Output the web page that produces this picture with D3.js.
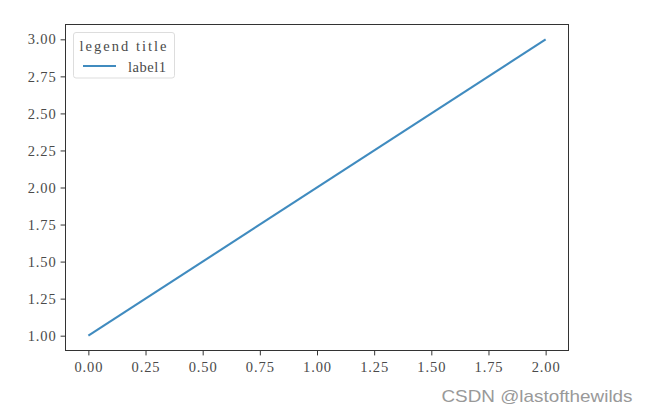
<!DOCTYPE html>
<html><head><meta charset="utf-8">
<script src="https://cdn.jsdelivr.net/npm/d3@7"></script>
<style>html,body{margin:0;padding:0;background:#fff;}</style>
</head><body>
<svg id="c" width="649" height="413"></svg>
<script>
const xValues = [0, 2];
const yValues = [1, 3];
const xTicks = [0, 0.25, 0.5, 0.75, 1.0, 1.25, 1.5, 1.75, 2.0];
const yTicks = [1.0, 1.25, 1.5, 1.75, 2.0, 2.25, 2.5, 2.75, 3.0];
const legendTitle = "legend title";
const seriesLabel = "label1";
const watermark = "CSDN @lastofthewilds";

const svg = d3.select("#c");
const L = 65.5, R = 568.5, T = 24.5, B = 350.5;
const x = d3.scaleLinear().domain([-0.1, 2.1]).range([L, R]);
const y = d3.scaleLinear().domain([0.9, 3.1]).range([B, T]);
const font = "'Liberation Serif', 'Times New Roman', serif";
const tc = "#4a4a4a";

const xa = svg.append("g").attr("transform", `translate(0,${B})`)
  .call(d3.axisBottom(x).tickValues(xTicks).tickFormat(d3.format(".2f")).tickSize(4.9).tickPadding(5));
const ya = svg.append("g").attr("transform", `translate(${L},0)`)
  .call(d3.axisLeft(y).tickValues(yTicks).tickFormat(d3.format(".2f")).tickSize(4.9).tickPadding(5));
[xa, ya].forEach(a => {
  a.select(".domain").remove();
  a.selectAll(".tick line").attr("stroke", "#333").attr("stroke-width", 1);
  a.selectAll(".tick text").attr("font-family", font).attr("font-size", 14.5)
    .attr("letter-spacing", 0.9).attr("fill", tc);
});
ya.selectAll(".tick text").attr("dx", 1);
xa.selectAll(".tick text").attr("dy", "0.8em");

svg.append("rect").attr("x", L).attr("y", T).attr("width", R - L).attr("height", B - T)
  .attr("fill", "none").attr("stroke", "#333").attr("stroke-width", 1);

const line = d3.line().x((d, i) => x(xValues[i])).y(d => y(d));
svg.append("path").datum(yValues).attr("d", line)
  .attr("fill", "none").attr("stroke", "#1f77b4").attr("stroke-width", 2.1).attr("opacity", 0.85);

// legend
const lg = svg.append("g");
lg.append("rect").attr("x", 73.5).attr("y", 32.5).attr("width", 101).attr("height", 45.5)
  .attr("rx", 2.5).attr("fill", "#fff").attr("fill-opacity", 0.8).attr("stroke", "#ddd").attr("stroke-width", 1);
lg.append("text").attr("x", 79.5).attr("y", 50.5).attr("font-family", font).attr("font-size", 14.5)
  .attr("fill", tc).attr("textLength", 87).attr("lengthAdjust", "spacing").text(legendTitle);
lg.append("line").attr("x1", 83).attr("x2", 116).attr("y1", 66).attr("y2", 66)
  .attr("stroke", "#1f77b4").attr("stroke-width", 2.1).attr("opacity", 0.85);
lg.append("text").attr("x", 128).attr("y", 71.5).attr("font-family", font).attr("font-size", 14.5)
  .attr("fill", tc).attr("textLength", 38).attr("lengthAdjust", "spacing").text(seriesLabel);

svg.append("text").attr("x", 441.5).attr("y", 402).attr("font-family", "'Liberation Sans', Arial, sans-serif")
  .attr("font-size", 17).attr("fill", "#999").attr("textLength", 191).attr("lengthAdjust", "spacingAndGlyphs")
  .text(watermark);
</script>
</body></html>
